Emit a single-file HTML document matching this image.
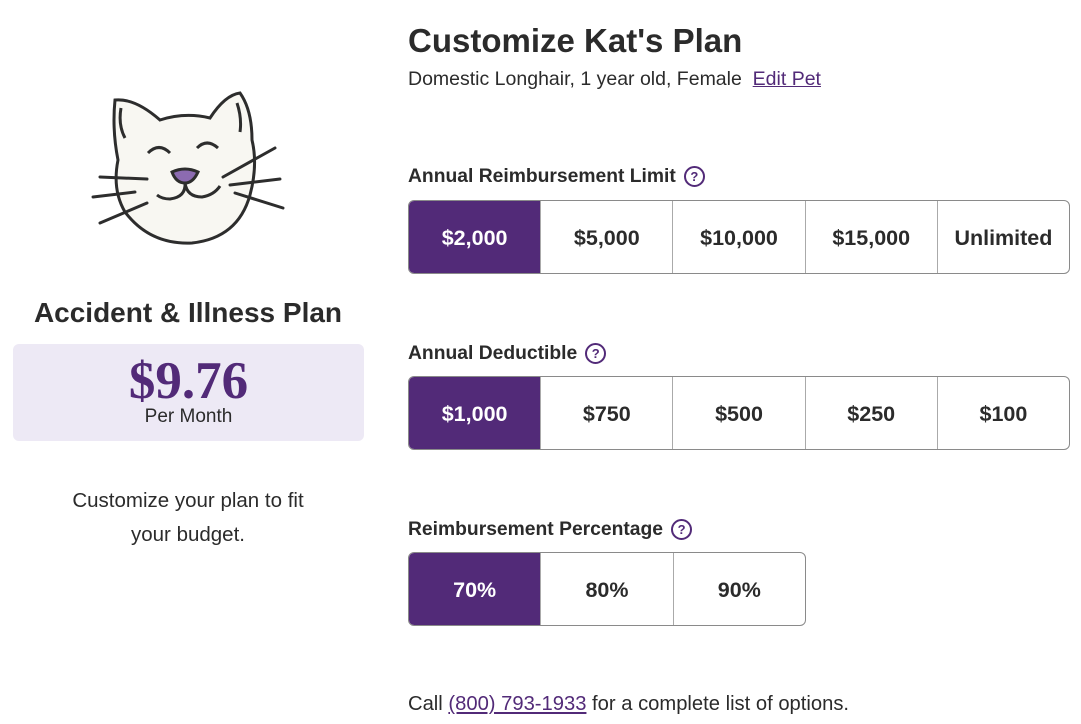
<!DOCTYPE html>
<html><head><style>
body{margin:0;width:1081px;height:724px;background:#fff;font-family:"Liberation Sans",sans-serif;color:#2b2b2b;position:relative;overflow:hidden}
.a{position:absolute}
.grp{position:absolute;left:408px;display:flex;border:1px solid #8a8a8a;border-radius:6px;overflow:hidden;height:72px}
.grp div{flex:1;display:flex;align-items:center;justify-content:center;font-size:21.5px;font-weight:bold;border-left:1px solid #aaa;color:#2b2b2b;padding-top:2px}
.grp div:first-child{border-left:none;background:#522a78;color:#fff}
.lbl{position:absolute;left:408px;font-size:19.3px;font-weight:bold;color:#2b2b2b}
.q{display:inline-block;width:17px;height:17px;border:2px solid #522a78;border-radius:50%;color:#522a78;font-size:13px;text-align:center;line-height:17px;margin-left:8px;vertical-align:1px}
a{color:#522a78;text-decoration:underline}
</style></head><body>
<svg class="a" style="left:0;top:0" width="380" height="280">
<path d="M115 100 Q112 130 118 160 Q112 190 125 212 Q150 245 192 243 Q238 238 250 195 Q258 165 252 140 Q252 110 240 93 Q225 95 210 118 Q185 112 160 120 Q135 98 115 100Z" fill="#f8f7f2" stroke="#2d2d2d" stroke-width="3"/>
<path d="M121 108 Q118 125 125 138 M237 103 Q242 118 240 132" fill="none" stroke="#2d2d2d" stroke-width="3"/>
<path d="M148 153 Q159 142 170 153 M197 148 Q207 138 218 148" fill="none" stroke="#2d2d2d" stroke-width="3"/>
<path d="M172 172 Q185 166 198 172 Q193 183 185 183 Q176 183 172 172Z" fill="#8c6bb1" stroke="#2d2d2d" stroke-width="3"/>
<path d="M185 183 Q186 197 170 199 Q162 199 157 195 M185 183 Q187 197 202 197 Q214 195 220 186" fill="none" stroke="#2d2d2d" stroke-width="3"/>
<path d="M100 177 L147 179 M93 197 L135 192 M100 223 L147 203 M223 177 L275 148 M230 185 L280 179 M235 193 L283 208" stroke="#2d2d2d" stroke-width="3" stroke-linecap="round"/>
</svg>
<div class="a" style="left:0;width:376px;top:297px;text-align:center;font-size:28px;font-weight:bold">Accident &amp; Illness Plan</div>
<div class="a" style="left:13px;top:344px;width:351px;height:97px;background:#ede9f5;border-radius:6px;text-align:center">
<div style="font-family:'Liberation Serif',serif;font-weight:bold;font-size:53px;color:#522a78;line-height:54px;margin-top:10px">$9.76</div>
<div style="font-size:19px;line-height:22px;margin-top:-2px">Per Month</div></div>
<div class="a" style="left:0;width:376px;top:484px;text-align:center;font-size:20.5px;line-height:34px">Customize your plan to fit<br>your budget.</div>
<div class="a" style="left:408px;top:22px;font-size:33px;font-weight:bold">Customize Kat's Plan</div>
<div class="a" style="left:408px;top:68px;font-size:19.5px">Domestic Longhair, 1 year old, Female&nbsp; <a>Edit Pet</a></div>
<div class="lbl" style="top:166px">Annual Reimbursement Limit<span class="q">?</span></div>
<div class="grp" style="top:200px;width:660px"><div>$2,000</div><div>$5,000</div><div>$10,000</div><div>$15,000</div><div>Unlimited</div></div>
<div class="lbl" style="top:343px">Annual Deductible<span class="q">?</span></div>
<div class="grp" style="top:376px;width:660px"><div>$1,000</div><div>$750</div><div>$500</div><div>$250</div><div>$100</div></div>
<div class="lbl" style="top:519px">Reimbursement Percentage<span class="q">?</span></div>
<div class="grp" style="top:552px;width:396px"><div>70%</div><div>80%</div><div>90%</div></div>
<div class="a" style="left:408px;top:693px;font-size:20.2px">Call <a>(800) 793-1933</a> for a complete list of options.</div>
</body></html>
